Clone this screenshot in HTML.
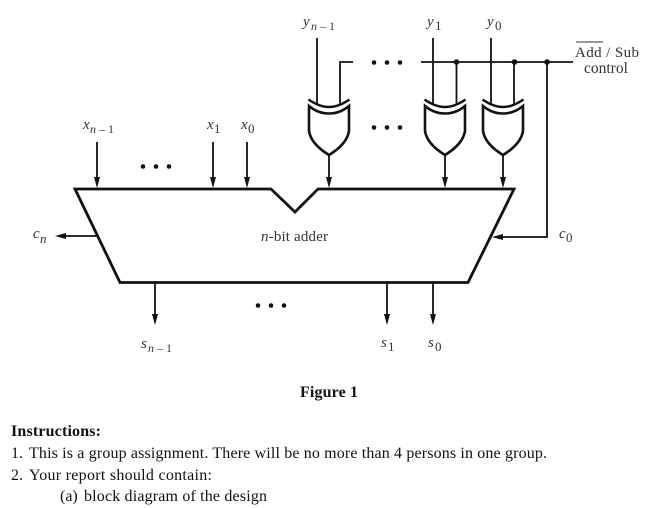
<!DOCTYPE html>
<html><head><meta charset="utf-8"><style>
html,body{margin:0;padding:0;background:#fff;width:657px;height:508px;overflow:hidden}
svg{display:block}
text{font-family:"Liberation Serif",serif;fill:#333}
.i{font-style:italic}
.b{font-size:16px;fill:#111}
</style></head><body>
<svg width="657" height="508" viewBox="0 0 657 508" xmlns="http://www.w3.org/2000/svg">
<defs>
<g id="xor">
<path d="M-20.500 9.500C-14 14 -7 17 0 17C7 17 14 14 20.500 9.500" fill="none" stroke="#111" stroke-width="2.400"/>
<path d="M-20 16C-14 21 -7 23.500 0 23.500C7 23.500 14 21 20 16V41Q18 54 0 65Q-18 54 -20 41Z" fill="#fff" stroke="#111" stroke-width="2.600" stroke-linejoin="miter"/>
</g>
</defs>
<g stroke="#111" stroke-width="1.800" fill="none">
<path d="M317 38V104M340 104V62H353"/>
<path d="M433 38V104M456.500 62V104"/>
<path d="M491 38V104M514 62V104"/>
<path d="M421 62H573"/>
<path d="M547 62V237H500"/>
</g>
<use href="#xor" x="329" y="90"/>
<use href="#xor" x="445" y="90"/>
<use href="#xor" x="503" y="90"/>
<g fill="#111">
<circle cx="456.500" cy="62" r="2.800"/><circle cx="514.500" cy="62" r="2.800"/><circle cx="547" cy="62" r="2.800"/>
<circle cx="374" cy="62.500" r="2.300"/><circle cx="387" cy="62.500" r="2.300"/><circle cx="400" cy="62.500" r="2.300"/>
<circle cx="374" cy="127.500" r="2.300"/><circle cx="387" cy="127.500" r="2.300"/><circle cx="400" cy="127.500" r="2.300"/>
<circle cx="143" cy="166.500" r="2.300"/><circle cx="156" cy="166.500" r="2.300"/><circle cx="169" cy="166.500" r="2.300"/>
<circle cx="258" cy="305.500" r="2.300"/><circle cx="271" cy="305.500" r="2.300"/><circle cx="284" cy="305.500" r="2.300"/>
<path d="M326 177H332L329 188Z"/><path d="M442 177H448L445 188Z"/><path d="M500 177H506L503 188Z"/>
<path d="M94 177H100L97 188Z"/><path d="M210 177H216L213 188Z"/><path d="M244 177H250L247 188Z"/>
<path d="M152 314H158L155 325Z"/><path d="M384 314H390L387 325Z"/><path d="M430 314H436L433 325Z"/>
<path d="M66 233V239L55 236Z"/><path d="M503 234V240L492 237Z"/>
</g>
<g stroke="#111" stroke-width="1.800" fill="none">
<path d="M329 155V180M445 155V180M503 155V180"/>
<path d="M97 142V180M213 142V180M247 142V180"/>
<path d="M155 283V316M387 283V316M433 283V316"/>
<path d="M97 236H64"/>
</g>
<path d="M75 189H271L295 212L318 189H514L468 282.500H120Z" fill="none" stroke="#111" stroke-width="2.800" stroke-linejoin="miter"/>

<text x="303" y="26" font-size="15" class="i">y</text><text x="311" y="30" font-size="12"><tspan class="i">n</tspan> – 1</text>
<text x="427" y="26" font-size="15" class="i">y</text><text x="435" y="30" font-size="13">1</text>
<text x="487" y="26" font-size="15" class="i">y</text><text x="495" y="30" font-size="13">0</text>

<text x="83" y="129" font-size="15" class="i">x</text><text x="90" y="133" font-size="12"><tspan class="i">n</tspan> – 1</text>
<text x="207" y="129" font-size="15" class="i">x</text><text x="214" y="133" font-size="13">1</text>
<text x="241" y="129" font-size="15" class="i">x</text><text x="248" y="133" font-size="13">0</text>

<text x="33" y="238" font-size="15" class="i">c</text><text x="40" y="243" font-size="13" class="i">n</text>
<text x="559" y="238" font-size="15" class="i">c</text><text x="566" y="242" font-size="13">0</text>
<text x="141" y="348" font-size="15" class="i">s</text><text x="148" y="352" font-size="12"><tspan class="i">n</tspan> – 1</text>
<text x="381" y="347" font-size="15" class="i">s</text><text x="388" y="351" font-size="13">1</text>
<text x="428" y="347" font-size="15" class="i">s</text><text x="435" y="351" font-size="13">0</text>

<text x="261" y="241" font-size="15" textLength="67"><tspan class="i">n</tspan>-bit adder</text>
<path d="M576 42H603" stroke="#333" stroke-width="1"/>
<text x="575" y="57" font-size="15" textLength="64">Add / Sub</text>
<text x="584" y="73" font-size="15.500">control</text>

<text x="300" y="397" class="b" font-weight="bold" textLength="58">Figure 1</text>
<text x="11" y="436" class="b" font-weight="bold" textLength="90">Instructions:</text>
<text x="11" y="458" class="b">1.</text><text x="29" y="458" class="b" textLength="518">This is a group assignment. There will be no more than 4 persons in one group.</text>
<text x="11" y="480" class="b">2.</text><text x="29" y="480" class="b" textLength="183">Your report should contain:</text>
<text x="60" y="501" class="b">(a)</text><text x="84" y="501" class="b" textLength="183">block diagram of the design</text>
</svg>
</body></html>
